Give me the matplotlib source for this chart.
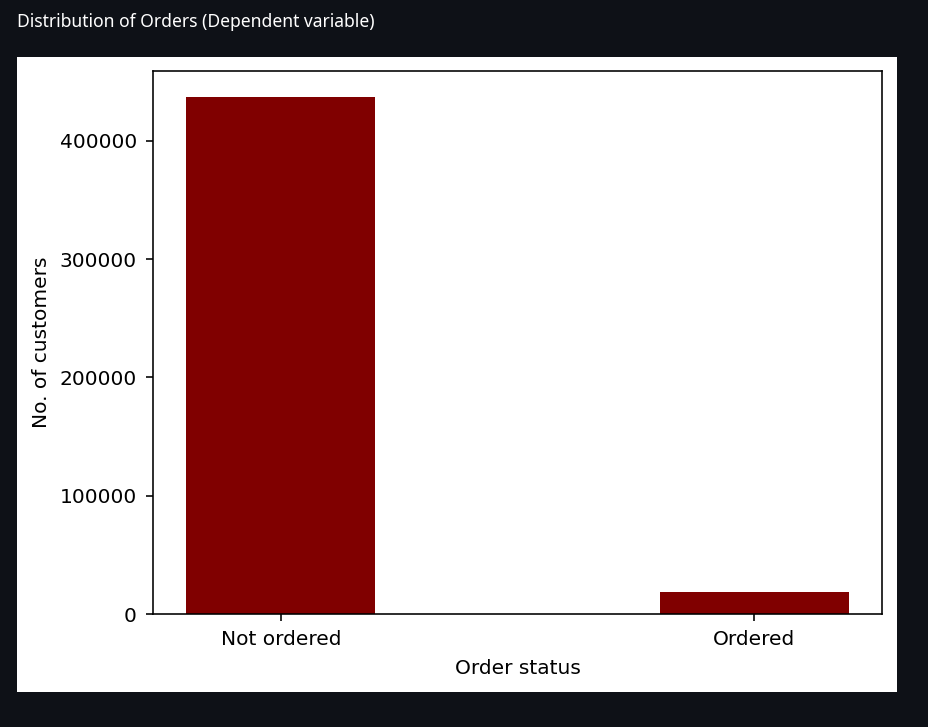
import matplotlib.pyplot as plt

# order counts (dependent variable)
status = ["Not ordered", "Ordered"]
customers = [437200, 18600]

plt.rcParams["font.family"] = "DejaVu Sans"

# the original plot looks like a default figure rendered at a higher dpi
fig = plt.figure(figsize=(6.4, 5.014), dpi=145)
fig.patch.set_facecolor("#0e1117")

# white panel holding the plot, like the app's image frame
panel = fig.add_axes([0.0183, 0.0481, 0.9483, 0.8735], zorder=-1)
panel.set_facecolor("white")
panel.set_xticks([])
panel.set_yticks([])
for s in panel.spines.values():
    s.set_visible(False)

fig.text(0.0183, 0.970, "Distribution of Orders (Dependent variable)",
         color="white", fontsize=8.7, family="Noto Sans", va="center")

ax = fig.add_axes([0.1649, 0.1554, 0.7855, 0.7469])
ax.bar(status, customers, color="maroon", width=0.4)
ax.tick_params(pad=4.5)
ax.set_xlabel("Order status", labelpad=5)
ax.set_ylabel("No. of customers", labelpad=4.5)

plt.savefig("out.png", dpi=145, facecolor=fig.get_facecolor())
